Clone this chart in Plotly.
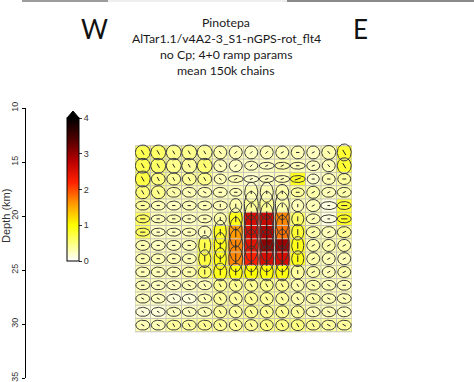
import numpy as np
import plotly.graph_objects as go

FIG_W, FIG_H = 474, 382

# ---------------- data ----------------
n_cols = 14
col_index = list(range(n_cols))
depth_top_km = 13.5
row_height_km = 1.23
depth_ticks = [10, 15, 20, 25, 30, 35]
colorbar_ticks = [0, 1, 2, 3, 4]

title_lines = ["Pinotepa", "AlTar1.1/v4A2-3_S1-nGPS-rot_flt4",
               "no Cp; 4+0 ramp params", "mean 150k chains"]

# mean slip (m), rows from top (shallow) to bottom (deep)
slip = [
    [0.68, 0.60, 0.45, 0.45, 0.40, 0.32, 0.28, 0.25, 0.28, 0.28, 0.28, 0.25, 0.32, 0.80],
    [0.68, 0.60, 0.45, 0.40, 0.55, 0.28, 0.25, 0.25, 0.25, 0.32, 0.28, 0.25, 0.28, 0.80],
    [0.72, 0.50, 0.40, 0.40, 0.45, 0.28, 0.28, 0.20, 0.25, 0.28, 0.88, 0.20, 0.28, 0.38],
    [0.52, 0.45, 0.33, 0.28, 0.28, 0.28, 0.28, 0.30, 0.30, 0.33, 0.38, 0.33, 0.28, 0.33],
    [0.38, 0.28, 0.25, 0.28, 0.28, 0.28, 0.33, 0.40, 0.42, 0.33, 0.28, 0.28, 0.12, 0.80],
    [0.62, 0.28, 0.28, 0.25, 0.28, 0.33, 0.90, 2.55, 2.65, 1.70, 0.60, 0.28, 0.12, 0.85],
    [0.62, 0.25, 0.25, 0.28, 0.28, 0.85, 1.60, 2.55, 2.85, 1.80, 0.80, 0.33, 0.28, 0.42],
    [0.30, 0.25, 0.25, 0.28, 0.70, 0.90, 1.70, 2.45, 3.05, 2.95, 0.90, 0.33, 0.33, 0.33],
    [0.30, 0.28, 0.28, 0.28, 0.75, 0.90, 1.70, 2.20, 2.55, 2.55, 0.90, 0.33, 0.28, 0.28],
    [0.28, 0.28, 0.28, 0.33, 0.60, 0.90, 0.95, 1.00, 1.00, 0.95, 0.38, 0.33, 0.28, 0.33],
    [0.28, 0.25, 0.25, 0.28, 0.28, 0.42, 0.42, 0.42, 0.45, 0.42, 0.33, 0.33, 0.28, 0.28],
    [0.25, 0.25, 0.15, 0.15, 0.28, 0.38, 0.38, 0.42, 0.42, 0.38, 0.33, 0.33, 0.28, 0.28],
    [0.15, 0.15, 0.25, 0.25, 0.28, 0.38, 0.38, 0.42, 0.42, 0.42, 0.38, 0.28, 0.28, 0.25],
    [0.28, 0.28, 0.38, 0.38, 0.42, 0.42, 0.42, 0.42, 0.50, 0.50, 0.50, 0.42, 0.38, 0.38],
]

# uncertainty ellipse semi-axes: along strike (cells) and down dip (km)
unc_strike = [
    [0.48, 0.48, 0.48, 0.48, 0.48, 0.42, 0.42, 0.42, 0.42, 0.42, 0.42, 0.42, 0.45, 0.45],
    [0.48, 0.48, 0.48, 0.48, 0.48, 0.42, 0.42, 0.42, 0.48, 0.48, 0.48, 0.42, 0.42, 0.45],
    [0.48, 0.45, 0.45, 0.45, 0.45, 0.39, 0.48, 0.48, 0.48, 0.48, 0.48, 0.39, 0.42, 0.42],
    [0.45, 0.45, 0.45, 0.45, 0.45, 0.45, 0.39, 0.42, 0.42, 0.42, 0.42, 0.42, 0.45, 0.45],
    [0.45, 0.45, 0.45, 0.45, 0.45, 0.45, 0.39, 0.45, 0.45, 0.45, 0.39, 0.45, 0.52, 0.45],
    [0.45, 0.45, 0.45, 0.45, 0.45, 0.39, 0.42, 0.45, 0.45, 0.45, 0.39, 0.45, 0.52, 0.45],
    [0.45, 0.45, 0.45, 0.45, 0.42, 0.39, 0.42, 0.45, 0.45, 0.45, 0.39, 0.45, 0.45, 0.45],
    [0.45, 0.45, 0.45, 0.45, 0.39, 0.39, 0.45, 0.45, 0.45, 0.45, 0.39, 0.42, 0.42, 0.42],
    [0.45, 0.45, 0.45, 0.45, 0.39, 0.39, 0.45, 0.45, 0.45, 0.45, 0.39, 0.42, 0.42, 0.42],
    [0.45, 0.45, 0.45, 0.45, 0.42, 0.42, 0.42, 0.42, 0.42, 0.42, 0.42, 0.42, 0.42, 0.42],
    [0.45, 0.45, 0.45, 0.45, 0.45, 0.42, 0.42, 0.42, 0.42, 0.42, 0.42, 0.45, 0.45, 0.45],
    [0.45, 0.45, 0.45, 0.45, 0.45, 0.42, 0.42, 0.42, 0.42, 0.42, 0.42, 0.45, 0.45, 0.45],
    [0.45, 0.45, 0.45, 0.45, 0.45, 0.42, 0.42, 0.42, 0.42, 0.42, 0.42, 0.45, 0.45, 0.45],
    [0.45, 0.45, 0.45, 0.45, 0.45, 0.42, 0.42, 0.42, 0.42, 0.42, 0.42, 0.45, 0.45, 0.45],
]
unc_dip = [
    [0.69, 0.69, 0.69, 0.69, 0.69, 0.60, 0.60, 0.60, 0.60, 0.60, 0.60, 0.60, 0.65, 0.79],
    [0.69, 0.69, 0.69, 0.69, 0.69, 0.56, 0.56, 0.42, 0.32, 0.32, 0.32, 0.46, 0.56, 0.74],
    [0.74, 0.56, 0.56, 0.56, 0.56, 0.46, 0.32, 0.32, 0.32, 0.32, 0.32, 0.46, 0.51, 0.51],
    [0.60, 0.60, 0.46, 0.46, 0.46, 0.46, 0.37, 0.93, 0.93, 0.74, 0.42, 0.56, 0.46, 0.46],
    [0.42, 0.42, 0.42, 0.42, 0.42, 0.42, 0.65, 1.30, 1.30, 1.30, 0.56, 0.56, 0.37, 0.37],
    [0.37, 0.37, 0.37, 0.37, 0.37, 0.56, 1.02, 1.48, 1.48, 1.48, 0.65, 0.46, 0.37, 0.37],
    [0.37, 0.37, 0.37, 0.37, 0.56, 1.11, 1.39, 1.57, 1.57, 1.57, 0.74, 0.51, 0.51, 0.51],
    [0.46, 0.46, 0.46, 0.46, 0.93, 1.20, 1.48, 1.48, 1.48, 1.48, 0.83, 0.56, 0.56, 0.56],
    [0.46, 0.46, 0.46, 0.46, 0.83, 1.02, 1.20, 1.20, 1.20, 1.20, 0.74, 0.56, 0.56, 0.56],
    [0.46, 0.46, 0.46, 0.46, 0.56, 0.83, 0.83, 0.83, 0.83, 0.83, 0.65, 0.51, 0.51, 0.51],
    [0.42, 0.42, 0.42, 0.42, 0.42, 0.56, 0.56, 0.56, 0.56, 0.56, 0.56, 0.46, 0.46, 0.46],
    [0.42, 0.42, 0.42, 0.42, 0.42, 0.56, 0.56, 0.56, 0.56, 0.56, 0.56, 0.46, 0.46, 0.46],
    [0.42, 0.42, 0.42, 0.42, 0.42, 0.56, 0.56, 0.56, 0.56, 0.56, 0.56, 0.46, 0.46, 0.46],
    [0.46, 0.46, 0.46, 0.46, 0.46, 0.51, 0.51, 0.51, 0.51, 0.51, 0.51, 0.46, 0.46, 0.46],
]

# slip direction (degrees, counter-clockwise from along-strike, as seen on the page)
rake = [
    [-60, -60, -60, -60, -60, -50, 45, 45, 45, 30, 0, 30, -50, -60],
    [-60, -60, -60, -60, -60, -50, 45, 45, 30, 30, 0, 20, -50, -60],
    [-60, -60, -60, -60, -60, -40, 30, 20, 20, 20, 20, 0, 0, 0],
    [-60, -60, -40, -30, -30, 0, 0, 90, 90, 90, 0, 30, 30, 30],
    [0, 0, 0, 0, 0, 90, 90, 90, 90, 90, 90, 30, 0, 0],
    [0, 0, 0, 0, 0, 90, 90, 90, 90, 90, 90, 30, 0, 0],
    [0, 0, 0, 0, 90, 90, 90, 90, 90, 90, 90, 30, 30, 30],
    [0, 0, 0, 0, 90, 90, 90, 90, 90, 90, 90, 30, 30, 30],
    [0, 0, 0, 0, 90, 90, 90, 90, 90, 90, 90, 30, 30, 30],
    [0, 0, 0, 0, 90, 90, 90, 90, 90, 90, 90, 30, 30, 30],
    [0, 0, -30, -30, -60, -60, -60, -60, -60, -60, -60, -30, -30, 0],
    [-30, -30, -60, -60, -60, -60, -60, -60, -60, -60, -60, -60, -30, -30],
    [-30, -30, -60, -60, -60, -60, -60, -60, -60, -60, -60, -60, -30, -30],
    [-30, -30, -60, -60, -60, -60, -60, -60, -60, -60, -60, -60, -30, -30],
]

# ---------------- layout geometry ----------------
X_DOMAIN = [135 / FIG_W, 352 / FIG_W]
Y_DOMAIN = [1 - 378 / FIG_H, 1 - 108 / FIG_H]
Y_RANGE = [35, 10]

slip_arr = np.array(slip)
n_rows = slip_arr.shape[0]
depth_centers = [depth_top_km + row_height_km * (j + 0.5) for j in range(n_rows)]
depth_edges = [depth_top_km + row_height_km * j for j in range(n_rows + 1)]
col_edges = [c - 0.5 for c in col_index] + [col_index[-1] + 0.5]

px_per_col = (X_DOMAIN[1] - X_DOMAIN[0]) * FIG_W / n_cols
px_per_km = (Y_DOMAIN[1] - Y_DOMAIN[0]) * FIG_H / abs(Y_RANGE[0] - Y_RANGE[1])

colorscale = [
    [0.0, "#FFFFFF"], [0.25, "#FFFF00"], [0.40, "#FF9A00"],
    [0.55, "#FF2000"], [0.70, "#B80000"], [0.85, "#500000"], [1.0, "#000000"],
]

fig = go.Figure()

fig.add_trace(go.Heatmap(
    z=slip_arr, x=col_index, y=depth_centers,
    zmin=0, zmax=4, colorscale=colorscale, hoverinfo="skip",
    colorbar=dict(
        x=67 / FIG_W, xanchor="left", xpad=0, ypad=0,
        y=1 - 189.5 / FIG_H, yanchor="middle",
        thickness=12, thicknessmode="pixels",
        len=143, lenmode="pixels",
        outlinewidth=1, outlinecolor="black",
        tickvals=colorbar_ticks, ticks="outside", ticklen=3,
        tickcolor="#333", tickfont=dict(size=9, color="#333", family="Liberation Sans"),
    ),
))

# cell grid lines
gx, gy = [], []
for xe in col_edges:
    gx += [xe, xe, None]
    gy += [depth_edges[0], depth_edges[-1], None]
for ye in depth_edges:
    gx += [col_edges[0], col_edges[-1], None]
    gy += [ye, ye, None]
fig.add_trace(go.Scatter(x=gx, y=gy, mode="lines", hoverinfo="skip",
                         line=dict(color="#c4c4b8", width=1), showlegend=False))

# uncertainty ellipses
t = np.linspace(0, 2 * np.pi, 41)
ex, ey = [], []
for j in range(n_rows):
    for i in range(n_cols):
        ex += list(col_index[i] + unc_strike[j][i] * np.cos(t)) + [None]
        ey += list(depth_centers[j] + unc_dip[j][i] * np.sin(t)) + [None]
fig.add_trace(go.Scatter(x=ex, y=ey, mode="lines", hoverinfo="skip",
                         line=dict(color="#3a3a3a", width=1), showlegend=False))

# slip direction dashes (length scales with slip)
dx, dy = [], []
for j in range(n_rows):
    for i in range(n_cols):
        half = (2 + 5 * slip[j][i]) / 2
        ang = np.radians(rake[j][i])
        ox = half * np.cos(ang) / px_per_col
        oy = -half * np.sin(ang) / px_per_km
        dx += [col_index[i] - ox, col_index[i] + ox, None]
        dy += [depth_centers[j] - oy, depth_centers[j] + oy, None]
fig.add_trace(go.Scatter(x=dx, y=dy, mode="lines", hoverinfo="skip",
                         line=dict(color="#222", width=1), showlegend=False))

annotations = []
for k, line in enumerate(title_lines):
    annotations.append(dict(
        text=line, xref="paper", yref="paper", x=226 / FIG_W, y=1 - (23 + 15.7 * k) / FIG_H,
        xanchor="center", yanchor="middle", showarrow=False,
        font=dict(size=12.3, color="#1a1a1a", family="Lato")))
annotations.append(dict(text="W", xref="paper", yref="paper", x=94 / FIG_W, y=1 - 29 / FIG_H,
                        xanchor="center", yanchor="middle", showarrow=False,
                        font=dict(size=26, color="#111", family="Lato")))
annotations.append(dict(text="E", xref="paper", yref="paper", x=360 / FIG_W, y=1 - 29 / FIG_H,
                        xanchor="center", yanchor="middle", showarrow=False,
                        font=dict(size=26, color="#111", family="Lato")))
annotations.append(dict(text="Depth (km)", xref="paper", yref="paper", x=6 / FIG_W, y=1 - 216 / FIG_H,
                        xanchor="center", yanchor="middle", textangle=-90, showarrow=False,
                        font=dict(size=11, color="#333", family="Liberation Sans")))

shapes = [
    # colorbar extension triangle
    dict(type="path", xref="paper", yref="paper",
         path=f"M {67/FIG_W},{1-118/FIG_H} L {79/FIG_W},{1-118/FIG_H} L {73/FIG_W},{1-111/FIG_H} Z",
         fillcolor="black", line=dict(color="black", width=1)),
    # thin band at top edge
    dict(type="rect", xref="paper", yref="paper", x0=22 / FIG_W, x1=108 / FIG_W,
         y0=1 - 2 / FIG_H, y1=1, fillcolor="#9c9c9c", line=dict(width=0)),
    dict(type="rect", xref="paper", yref="paper", x0=108 / FIG_W, x1=287 / FIG_W,
         y0=1 - 2 / FIG_H, y1=1, fillcolor="#eeeeee", line=dict(width=0)),
    dict(type="rect", xref="paper", yref="paper", x0=287 / FIG_W, x1=1,
         y0=1 - 2 / FIG_H, y1=1, fillcolor="#8a8a8a", line=dict(width=0)),
]

fig.update_layout(
    width=FIG_W, height=FIG_H,
    margin=dict(l=0, r=0, t=0, b=0, autoexpand=False),
    paper_bgcolor="white", plot_bgcolor="rgba(0,0,0,0)",
    showlegend=False,
    xaxis=dict(domain=X_DOMAIN, range=[-0.5, 13.5], visible=False, fixedrange=True),
    yaxis=dict(domain=Y_DOMAIN, range=Y_RANGE, anchor="free", position=24.5 / FIG_W,
               showline=True, linecolor="black", linewidth=1, automargin=False,
               ticks="outside", ticklen=3, tickcolor="black",
               tickvals=depth_ticks, tickangle=-90,
               tickfont=dict(size=9, color="#333", family="Liberation Sans"),
               showgrid=False, zeroline=False, fixedrange=True),
    annotations=annotations, shapes=shapes,
)

fig.write_html("out.html", config={"displayModeBar": False},
               post_script="document.body.style.margin='0';document.body.style.overflow='hidden';")
